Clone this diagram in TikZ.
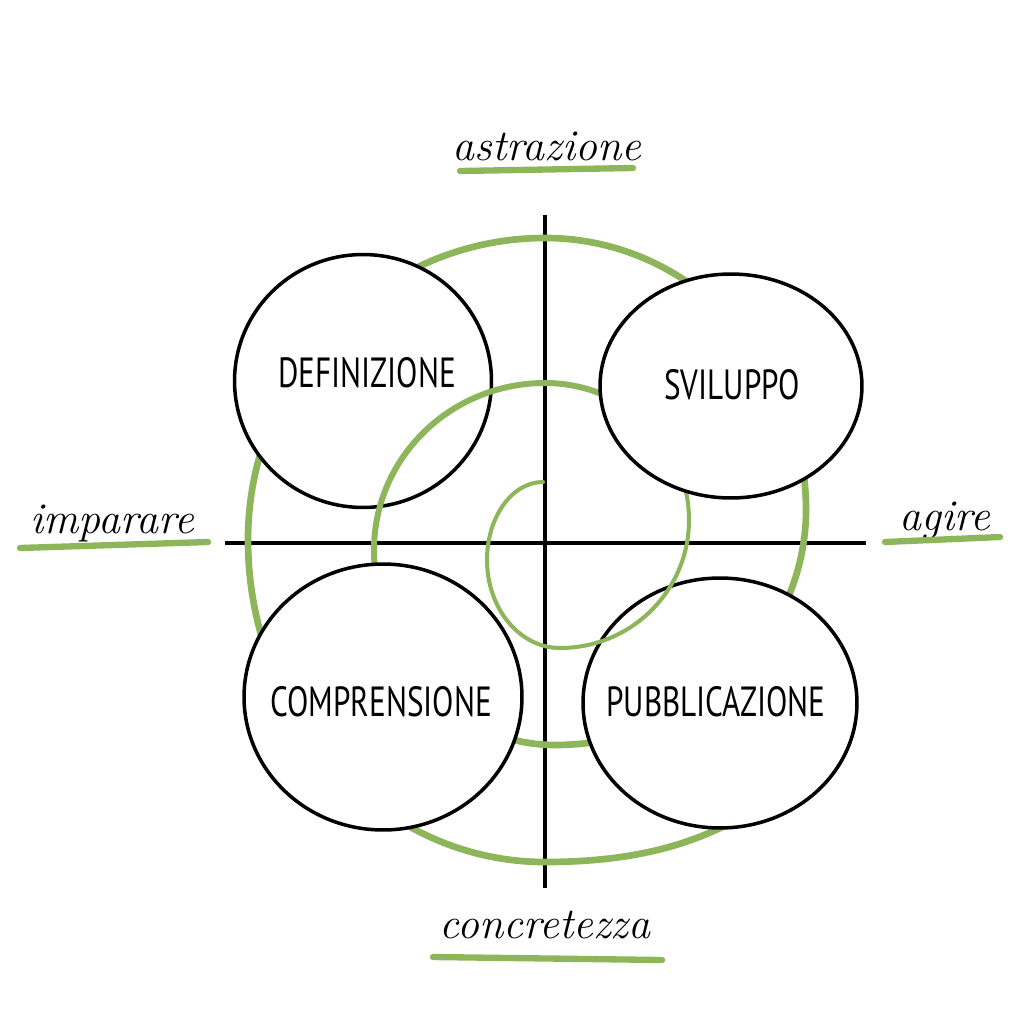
\documentclass[tikz,border=0pt]{standalone}
\usepackage{fontspec}
\usetikzlibrary{shapes.geometric}
\newfontfamily\capsfont[FakeStretch=0.74]{PT Sans}
\definecolor{leaf}{RGB}{141,181,90}

\begin{document}
\begin{tikzpicture}[x=0.02cm, y=-0.02cm,
  blob/.style={ellipse, draw=black, line width=2pt, fill=white, inner sep=0pt},
  word/.style={font=\capsfont\fontsize{24}{28}\selectfont, inner sep=0pt},
  side/.style={font=\itshape\fontsize{25}{29}\selectfont\addfontfeatures{FakeStretch=#1}, anchor=base},
  uline/.style={draw=leaf, line width=3.6pt, line cap=round},
  axis/.style={line width=1.8pt},
  swirl/.style={draw=leaf, line cap=round}]

  \fill[white] (0,0) rectangle (1024,1024);
  \useasboundingbox (0,0) rectangle (1024,1024);

  % axes
  \coordinate (N) at (545,215);
  \coordinate (Sth) at (545,888);
  \coordinate (W) at (225,543);
  \coordinate (E) at (866,543);
  \draw[axis] (N) -- (Sth);
  \draw[axis] (W) -- (E);

  % outer turns, hidden by every circle
  \draw[swirl, line width=3.8pt] (427,687.9) .. controls (459.8,723.15) and (505.05,745) .. (555,745)
    .. controls (693.6,745) and (806,639.7) .. (806,510)
    .. controls (806,359.9) and (689.1,238) .. (545,238)
    .. controls (381.1,238) and (248,373.3) .. (248,540)
    .. controls (248,717.7) and (381.1,862) .. (545,862)
    .. controls (640,862) and (700,842) .. (750,812);

  \node[blob, minimum width=5.14cm, minimum height=5.06cm] (D) at (363,381) {};
  \node[blob, minimum width=5.48cm, minimum height=5cm] (P) at (720,703) {};

  % inner turns, on top of D and P
  \draw[swirl, line width=2.3pt] (543,482) .. controls (512,482) and (487,517) .. (487,560)
    .. controls (487,608.6) and (519.7,648) .. (560,648)
    .. controls (631.2,648) and (689,590.7) .. (689,520)
    .. controls (689,482.2) and (672.9,447.95) .. (646.8,423.2);
  \draw[swirl, line width=3.4pt] (646.8,423.2) .. controls (620.75,398.35) and (584.75,383) .. (545,383)
    .. controls (450.6,383) and (374,457.8) .. (374,550)
    .. controls (374,603.8) and (394.3,652.55) .. (427,687.9);

  \node[blob, minimum width=5.24cm, minimum height=4.48cm] (S) at (731,386) {};
  \node[blob, minimum width=5.56cm, minimum height=5.32cm] (C) at (383,697) {};

  % names in the circles
  \node[word] (Dt) at (367,373) {DEFINIZIONE};
  \node[word] (St) at (732,385) {SVILUPPO};
  \node[word] (Ct) at (381,702) {COMPRENSIONE};
  \node[word] (Pt) at (716,702) {PUBBLICAZIONE};

  % axis labels
  \node[side=1] (top) at (547,160) {astrazione};
  \node[side=1.25] (left) at (112,533) {imparare};
  \node[side=1.43] (right) at (945,530) {agire};
  \node[side=1.12] (bottom) at (545,938) {concretezza};
  \draw[uline] (460,171) -- (633,168);
  \draw[uline] (20,548) -- (208,542);
  \draw[uline] (885,542) -- (1000,537);
  \draw[uline] (433,957) -- (662,960);
\end{tikzpicture}
\end{document}
